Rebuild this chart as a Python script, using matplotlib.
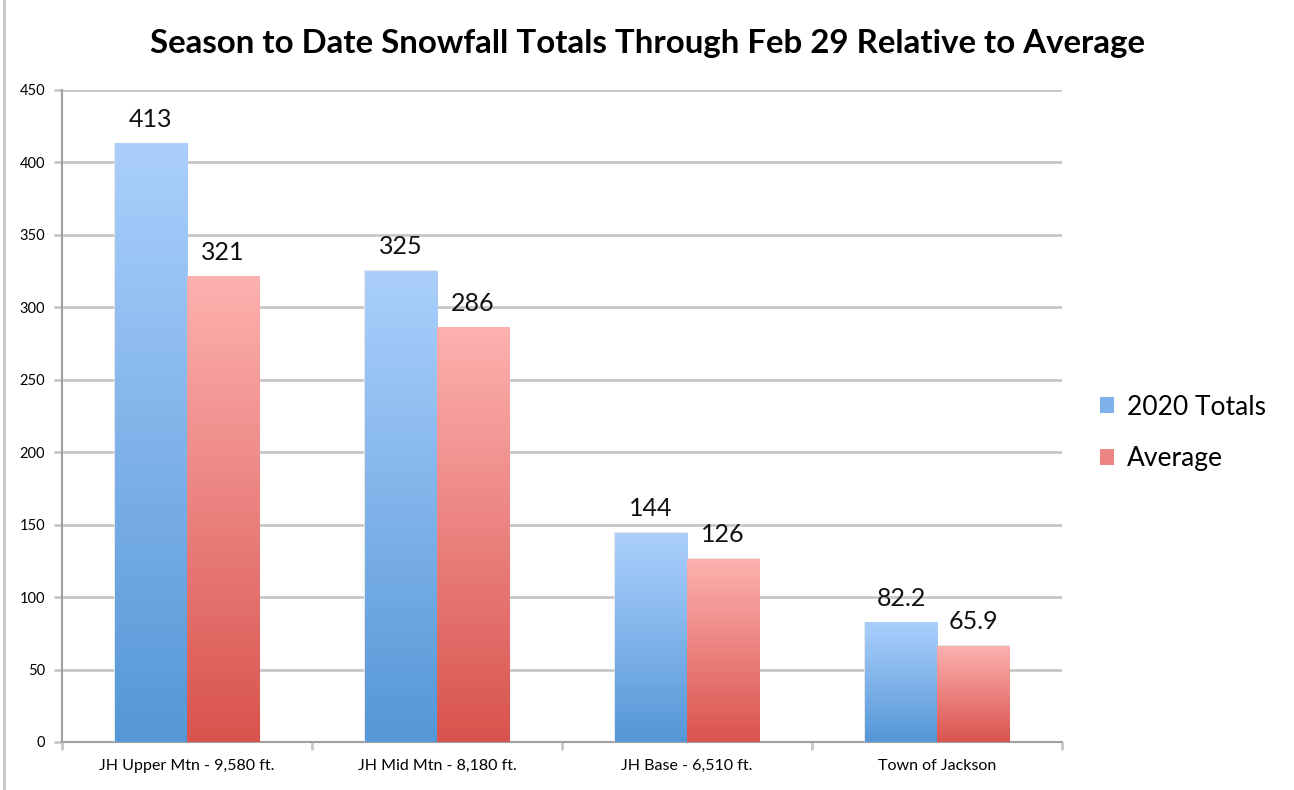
import matplotlib.pyplot as plt
import numpy as np
from matplotlib.colors import LinearSegmentedColormap
from matplotlib.patches import Patch

# --- data ---
categories = ['JH Upper Mtn - 9,580 ft.', 'JH Mid Mtn - 8,180 ft.',
              'JH Base - 6,510 ft.', 'Town of Jackson']
totals_2020 = [413, 325, 144, 82.2]
average = [321, 286, 126, 65.9]
total_labels = ['413', '325', '144', '82.2']
avg_labels = ['321', '286', '126', '65.9']

plt.rcParams['font.family'] = ['Lato', 'DejaVu Sans']

blue_cmap = LinearSegmentedColormap.from_list('b', ['#5597d7', '#abcffc'])
red_cmap = LinearSegmentedColormap.from_list('r', ['#d9534e', '#fdb1af'])

fig = plt.figure(figsize=(12.94, 7.9), dpi=100)
ax = fig.add_axes([0.0479, 0.0608, 0.7728, 0.8253])

x = np.arange(len(categories))
w = 0.288
grad = np.linspace(0, 1, 256).reshape(-1, 1)


def grad_bars(xs, vals, cmap):
    for xi, v in zip(xs, vals):
        ax.imshow(grad, cmap=cmap, origin='lower', aspect='auto',
                  extent=(xi - w / 2, xi + w / 2, 0, v), zorder=3)
        ax.add_patch(plt.Rectangle((xi - w / 2, 0), w, v, fill=False,
                                   edgecolor='#e4e4e4', lw=1.2, zorder=2.9))


grad_bars(x - w / 2, totals_2020, blue_cmap)
grad_bars(x + w / 2, average, red_cmap)

for xi, v, s in zip(x - w / 2, totals_2020, total_labels):
    ax.text(xi, v + 9, s, ha='center', va='bottom', fontsize=18, color='#111111')
for xi, v, s in zip(x + w / 2, average, avg_labels):
    ax.text(xi, v + 9, s, ha='center', va='bottom', fontsize=18, color='#111111')

ax.set_xlim(-0.5, len(categories) - 0.5)
ax.set_ylim(0, 450)
ax.set_yticks(range(0, 451, 50))
ax.tick_params(axis='y', labelsize=10.5, length=6, width=2, color='#c8c8c8', pad=6)
ax.set_xticks(x)
ax.set_xticklabels(categories, fontsize=11.5)
ax.set_xticks(np.arange(-0.5, len(categories)), minor=True)
ax.tick_params(axis='x', which='major', length=0, pad=12)
ax.tick_params(axis='x', which='minor', length=6, width=2, color='#c8c8c8')
ax.grid(axis='y', color='#c8c8c8', lw=2)
ax.set_axisbelow(True)
for s in ['top', 'right']:
    ax.spines[s].set_visible(False)
ax.spines['left'].set_color('#a0a0a0')
ax.spines['left'].set_linewidth(1.5)
ax.spines['bottom'].set_color('#a0a0a0')
ax.spines['bottom'].set_linewidth(1.5)

handles = [Patch(facecolor='#7fb2ea', label='2020 Totals'),
           Patch(facecolor='#ec8582', label='Average')]
fig.legend(handles=handles, loc='center left', bbox_to_anchor=(0.8314, 0.452),
           frameon=False, fontsize=19, handlelength=0.55, handleheight=0.55,
           handletextpad=0.5, labelspacing=1.0)

fig.text(0.5, 0.945, 'Season to Date Snowfall Totals Through Feb 29 Relative to Average',
         ha='center', va='center', fontsize=23.8, fontweight='bold')

fig.add_artist(plt.Line2D([0.003, 0.003], [0, 1], color='#c8c8c8', lw=2))

fig.savefig('out.png', dpi=100)
